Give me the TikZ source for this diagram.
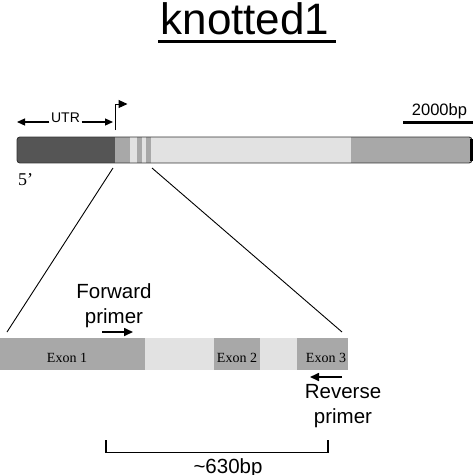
\documentclass[tikz,border=0pt]{standalone}
\usepackage{fontspec}
\setmainfont{Liberation Serif}
\newfontfamily\arial{Liberation Sans}
\usetikzlibrary{arrows.meta}
\definecolor{darkseg}{HTML}{555555}
\definecolor{midseg}{HTML}{A8A8A8}
\definecolor{lightseg}{HTML}{E2E2E2}
\begin{document}
\begin{tikzpicture}[x=1pt,y=-1pt,
  sanslabel/.style={font=\arial\fontsize{20.5}{24.5}\selectfont, inner sep=0pt, align=center},
  exonlabel/.style={font=\fontsize{14}{14}\selectfont, inner sep=0pt, anchor=base},
  tri/.style={-{Triangle[length=9pt,width=8pt]}, line width=1.6pt},
  thinline/.style={line width=0.9pt}]
\useasboundingbox (0,0) rectangle (474,475);

% title
\node[font=\arial\fontsize{44}{44}\selectfont, inner sep=0pt, anchor=base] (title) at (245,34) {knotted1};
\draw[line width=3pt] (158,41) -- (336,41);

% gene bar
\begin{scope}
  \clip[rounded corners=3pt] (17,137) rectangle (472,163);
  \fill[darkseg] (17,137) rectangle (115,163);
  \fill[midseg] (115,137) rectangle (130,163);
  \fill[lightseg] (130,137) rectangle (137.3,163);
  \fill[midseg] (137.3,137) rectangle (141.7,163);
  \fill[lightseg] (141.7,137) rectangle (145.7,163);
  \fill[midseg] (145.7,137) rectangle (151,163);
  \fill[lightseg] (151,137) rectangle (351,163);
  \fill[midseg] (351,137) rectangle (472,163);
\end{scope}
\draw[rounded corners=3pt, line width=0.9pt, draw=black!80] (17,137) rectangle (472,163);
\draw[line width=2.5pt] (471.5,139) -- (471.5,161);
\coordinate (barL) at (113,168);
\coordinate (barR) at (152,168);

% UTR
\node[font=\arial\fontsize{14}{14}\selectfont, inner sep=1.5pt, anchor=base] (utr) at (65.5,122) {UTR};
\coordinate (utrL) at (17,122);
\coordinate (utrR) at (113,122);
\draw[-{Triangle[length=8pt,width=7pt]}, line width=1.2pt] (utr.base west) -- (utrL);
\draw[-{Triangle[length=8pt,width=7pt]}, line width=1.2pt] (utr.base east) -- (utrR);

% start site
\coordinate (tss0) at (115,130);
\coordinate (tss1) at (115,104);
\coordinate (tss2) at (127.5,104);
\draw[-{Triangle[length=9pt,width=8pt]}, line width=1pt] (tss0) -- (tss1) -- (tss2);

% scale
\node[font=\arial\fontsize{16.5}{16.5}\selectfont, inner sep=0pt, anchor=base] (scale) at (439.5,115) {2000bp};
\draw[line width=3pt] (403,122) -- (473,122);

% 5'
\node[font=\fontsize{18}{18}\selectfont, inner sep=0pt, anchor=base west] (five) at (18,185) {5’};

% zoomed region
\fill[midseg] (0,338) rectangle (145,370);
\fill[lightseg] (145,338) rectangle (214,370);
\fill[midseg] (214,338) rectangle (260,370);
\fill[lightseg] (260,338) rectangle (297,370);
\fill[midseg] (297,338) rectangle (348,370);
\node[exonlabel] (ex1) at (67,362) {Exon 1};
\node[exonlabel] (ex2) at (237,362) {Exon 2};
\node[exonlabel] (ex3) at (326,362) {Exon 3};

\coordinate (zoomL) at (7,332);
\coordinate (zoomR) at (342,332);
\draw[thinline] (barL) -- (zoomL);
\draw[thinline] (barR) -- (zoomR);

% primers
\node[sanslabel, anchor=base] (fwd) at (114,323) {Forward\\primer};
\coordinate (f0) at (102,332);
\coordinate (f1) at (133,332);
\draw[tri] (f0) -- (f1);
\node[sanslabel, anchor=base] (rev) at (343,423) {Reverse\\primer};
\coordinate (r0) at (342,377);
\coordinate (r1) at (310,377);
\draw[tri] (r0) -- (r1);

% product bracket
\coordinate (b0) at (106,440);
\coordinate (b1) at (328,440);
\draw[line width=1.6pt] (b0) -- (106,452.5) -- (328,452.5) -- (b1);
\node[font=\arial\fontsize{20.5}{20.5}\selectfont, inner sep=0pt, anchor=base] (prod) at (228,473) {\textasciitilde630bp};
\end{tikzpicture}
\end{document}
